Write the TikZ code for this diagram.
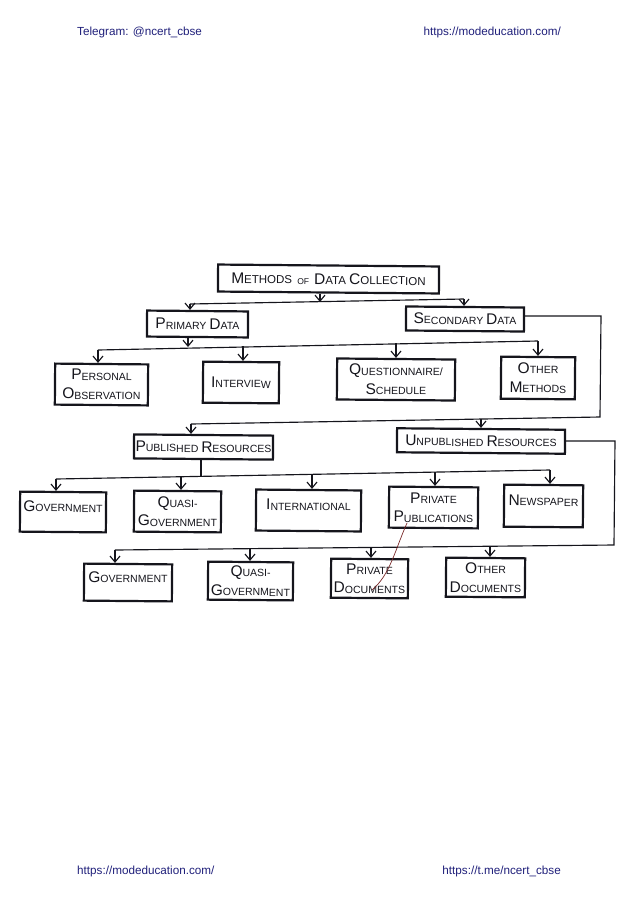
\documentclass[tikz,border=0pt]{standalone}
\usepackage{fontspec}
\setmainfont{Liberation Sans}
\usetikzlibrary{arrows.meta}
\definecolor{ink}{HTML}{15151C}
\definecolor{linkblue}{HTML}{1F1F7A}
\definecolor{redpen}{HTML}{7A2A2A}
\newcommand{\cp}[2]{{\fontsize{15.5}{15.5}\selectfont #1}#2}
\tikzset{
  bx/.style={draw=ink,line width=2.2pt,rectangle,rotate=-0.5,inner sep=0pt,align=center,text=ink,font=\fontsize{10.5}{19}\selectfont},
  conn/.style={draw=ink,line width=1.15pt},
  arr/.style={conn,-{Straight Barb[length=6pt,width=10pt]}},
  link/.style={text=linkblue,font=\fontsize{11.7}{14}\selectfont,inner sep=0pt},
}
\begin{document}
\begin{tikzpicture}[x=1pt,y=-1pt]
\useasboundingbox (0,0) rectangle (638,903);
\node[link,anchor=west] (h1) at (77,32) {Telegram: @ncert\_cbse};
\node[link,anchor=east] (h2) at (561,32) {https://modeducation.com/};
\node[link,anchor=west] (f1) at (77,871) {https://modeducation.com/};
\node[link,anchor=east] (f2) at (561,871) {https://t.me/ncert\_cbse};

\node[bx,minimum width=221,minimum height=27] (title) at (328.5,279) {\fontsize{11.5}{19}\selectfont\cp{M}{ETHODS} \,{\fontsize{8.5}{8.5}\selectfont OF}\, \cp{D}{ATA} \cp{C}{OLLECTION}};
\node[bx,minimum width=101,minimum height=26] (primary) at (197.5,324) {\cp{P}{RIMARY} \cp{D}{ATA}};
\node[bx,minimum width=118,minimum height=24] (secondary) at (465,319) {\cp{S}{ECONDARY} \cp{D}{ATA}};
\node[bx,minimum width=93,minimum height=41] (personal) at (101.5,384.5) {\cp{P}{ERSONAL}\\\cp{O}{BSERVATION}};
\node[bx,minimum width=76,minimum height=41] (interview) at (241,382.5) {\cp{I}{NTERVIEW}};
\node[bx,minimum width=118,minimum height=41] (question) at (396,379.5) {\cp{Q}{UESTIONNAIRE}/\\\cp{S}{CHEDULE}};
\node[bx,minimum width=74,minimum height=42] (omethods) at (538,378) {\cp{O}{THER}\\\cp{M}{ETHODS}};
\node[bx,minimum width=139,minimum height=24] (published) at (203.5,447) {\cp{P}{UBLISHED} \cp{R}{ESOURCES}};
\node[bx,minimum width=168,minimum height=24] (unpublished) at (481,441) {\cp{U}{NPUBLISHED} \cp{R}{ESOURCES}};
\node[bx,minimum width=86,minimum height=40] (gov) at (63,512) {\cp{G}{OVERNMENT}\\[-8pt]~};
\node[bx,minimum width=87,minimum height=41] (quasi) at (177.5,511.5) {\cp{Q}{UASI}-\\\cp{G}{OVERNMENT}};
\node[bx,minimum width=105,minimum height=41] (intl) at (308.5,510.5) {\cp{I}{NTERNATIONAL}\\[-8pt]~};
\node[bx,minimum width=89,minimum height=41] (privpub) at (433.5,507.5) {\cp{P}{RIVATE}\\\cp{P}{UBLICATIONS}};
\node[bx,minimum width=79,minimum height=42] (news) at (543.5,506) {\cp{N}{EWSPAPER}\\[-8pt]~};
\node[bx,minimum width=88,minimum height=37] (gov2) at (128,582.5) {\cp{G}{OVERNMENT}\\[-8pt]~};
\node[bx,minimum width=85,minimum height=38] (quasi2) at (250.5,581) {\cp{Q}{UASI}-\\\cp{G}{OVERNMENT}};
\node[bx,minimum width=77,minimum height=39] (privdoc) at (369.5,578.5) {\cp{P}{RIVATE}\\\cp{D}{OCUMENTS}};
\node[bx,minimum width=79,minimum height=39] (otherdoc) at (485.5,577.5) {\cp{O}{THER}\\\cp{D}{OCUMENTS}};

% first split
\coordinate (a1) at (190,304); \coordinate (a2) at (320,302); \coordinate (a3) at (464,299);
\draw[conn] (a1) -- (a3);
\draw[arr] (a2 |- title.south) -- (a2);
\draw[arr] (a1) -- (a1 |- primary.north);
\draw[arr] (a3) -- (a3 |- secondary.north);
% primary
\coordinate (b1) at (98,350); \coordinate (b2) at (188,347); \coordinate (b3) at (243,346);
\coordinate (b4) at (396,343); \coordinate (b5) at (538,341);
\draw[conn] (b1) -- (b5);
\draw[arr] (b2 |- primary.south) -- (b2);
\draw[arr] (b1) -- (b1 |- personal.north);
\draw[arr] (b3) -- (b3 |- interview.north);
\draw[arr] (b4) -- (b4 |- question.north);
\draw[arr] (b5) -- (b5 |- omethods.north);
% secondary
\coordinate (c1) at (601,316); \coordinate (c2) at (600,417); \coordinate (c3) at (481,419); \coordinate (c4) at (191,424);
\draw[conn] (secondary.east |- c1) -- (c1) -- (c2) -- (c4);
\draw[arr] (c3) -- (c3 |- unpublished.north);
\draw[arr] (c4) -- (c4 |- published.north);
% published
\coordinate (d0) at (201,476); \coordinate (d1) at (56,479); \coordinate (d2) at (181,477); \coordinate (d3) at (312,475);
\coordinate (d4) at (435,472); \coordinate (d5) at (550,470);
\draw[conn] (d1) -- (d5);
\draw[conn] (d0 |- published.south) -- (d0);
\draw[arr] (d1) -- (d1 |- gov.north);
\draw[arr] (d2) -- (d2 |- quasi.north);
\draw[arr] (d3) -- (d3 |- intl.north);
\draw[arr] (d4) -- (d4 |- privpub.north);
\draw[arr] (d5) -- (d5 |- news.north);
% unpublished
\coordinate (e1) at (615,441); \coordinate (e2) at (614,545); \coordinate (e3) at (490,546);
\coordinate (e4) at (371,547); \coordinate (e5) at (250,548); \coordinate (e6) at (115,550);
\draw[conn] (unpublished.east |- e1) -- (e1) -- (e2) -- (e6);
\draw[arr] (e3) -- (e3 |- otherdoc.north);
\draw[arr] (e4) -- (e4 |- privdoc.north);
\draw[arr] (e5) -- (e5 |- quasi2.north);
\draw[arr] (e6) -- (e6 |- gov2.north);
% pen stroke
\draw[redpen,line width=0.7pt] (407,523) .. controls (395,550) and (390,575) .. (372,590);
\end{tikzpicture}
\end{document}
